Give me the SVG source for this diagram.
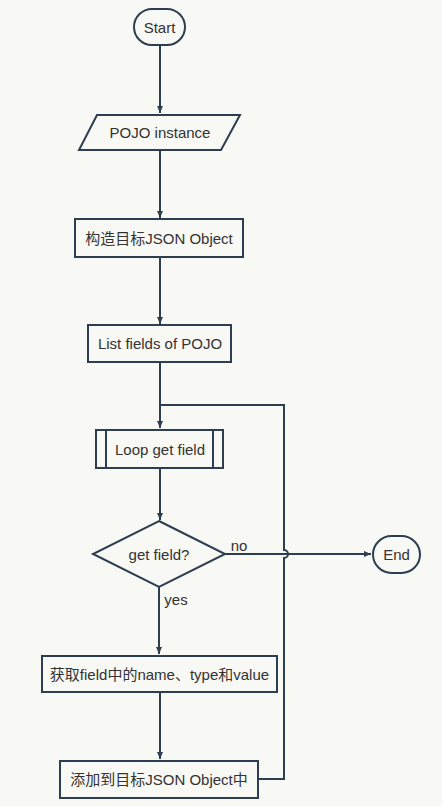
<svg xmlns="http://www.w3.org/2000/svg" width="442" height="806" viewBox="0 0 442 806">
<defs>
<style>
.n{fill:#f8f8f4;stroke:#2c3e50;stroke-width:2}
.t{font-family:"Liberation Sans","Noto Sans CJK SC",Arial,sans-serif;font-size:15px;fill:#333;text-anchor:middle;dominant-baseline:central}
.c{fill:none;stroke:#2c3e50;stroke-width:2}
</style>
<marker id="ah" markerWidth="8" markerHeight="8" refX="7" refY="4" orient="auto" markerUnits="userSpaceOnUse">
<path d="M0,1 L7,4 L0,7 Z" fill="#2c3e50"/>
</marker>
</defs>
<rect width="442" height="806" fill="#f8f8f4"/>
<g id="connectors">
<path class="c" d="M160,45 V113" marker-end="url(#ah)"/>
<path class="c" d="M160,150 V218" marker-end="url(#ah)"/>
<path class="c" d="M160,257 V324" marker-end="url(#ah)"/>
<path class="c" d="M160,362 V428" marker-end="url(#ah)"/>
<path class="c" d="M160,468 V520" marker-end="url(#ah)"/>
<path class="c" d="M159,587 V654" marker-end="url(#ah)"/>
<path class="c" d="M160,692 V759" marker-end="url(#ah)"/>
<path class="c" d="M225,554 H371" marker-end="url(#ah)"/>
<path class="c" d="M258,779 H284 V558 A4,4 0 0 0 284,550 V405 H160"/>
<text class="t" x="239" y="545">no</text>
<text class="t" x="176" y="599">yes</text>
</g>
<g id="start">
<rect class="n" x="134" y="9" width="51" height="36" rx="18"/>
<text class="t" x="159.5" y="27">Start</text>
</g>
<g id="pojo">
<polygon class="n" points="97,115 240,115 221,150 79,150"/>
<text class="t" x="160" y="132">POJO instance</text>
</g>
<g id="construct">
<rect class="n" x="75" y="219" width="168" height="38"/>
<text class="t" x="159" y="238">构造目标JSON Object</text>
</g>
<g id="list">
<rect class="n" x="88" y="325" width="143" height="37"/>
<text class="t" x="160" y="343.5">List fields of POJO</text>
</g>
<g id="loop">
<rect class="n" x="96" y="430" width="127" height="38"/>
<line class="c" x1="106" y1="430" x2="106" y2="468"/>
<line class="c" x1="213" y1="430" x2="213" y2="468"/>
<text class="t" x="160" y="449">Loop get field</text>
</g>
<g id="decision">
<polygon class="n" points="159,521 225,554 159,587 93,554"/>
<text class="t" x="159" y="554">get field?</text>
</g>
<g id="end">
<rect class="n" x="373" y="536" width="47" height="37" rx="18.5"/>
<text class="t" x="396.5" y="554.5">End</text>
</g>
<g id="get">
<rect class="n" x="42" y="656" width="235" height="36"/>
<text class="t" x="159.5" y="674">获取field中的name、type和value</text>
</g>
<g id="add">
<rect class="n" x="60" y="761" width="198" height="37"/>
<text class="t" x="159" y="779.5">添加到目标JSON Object中</text>
</g>
</svg>
